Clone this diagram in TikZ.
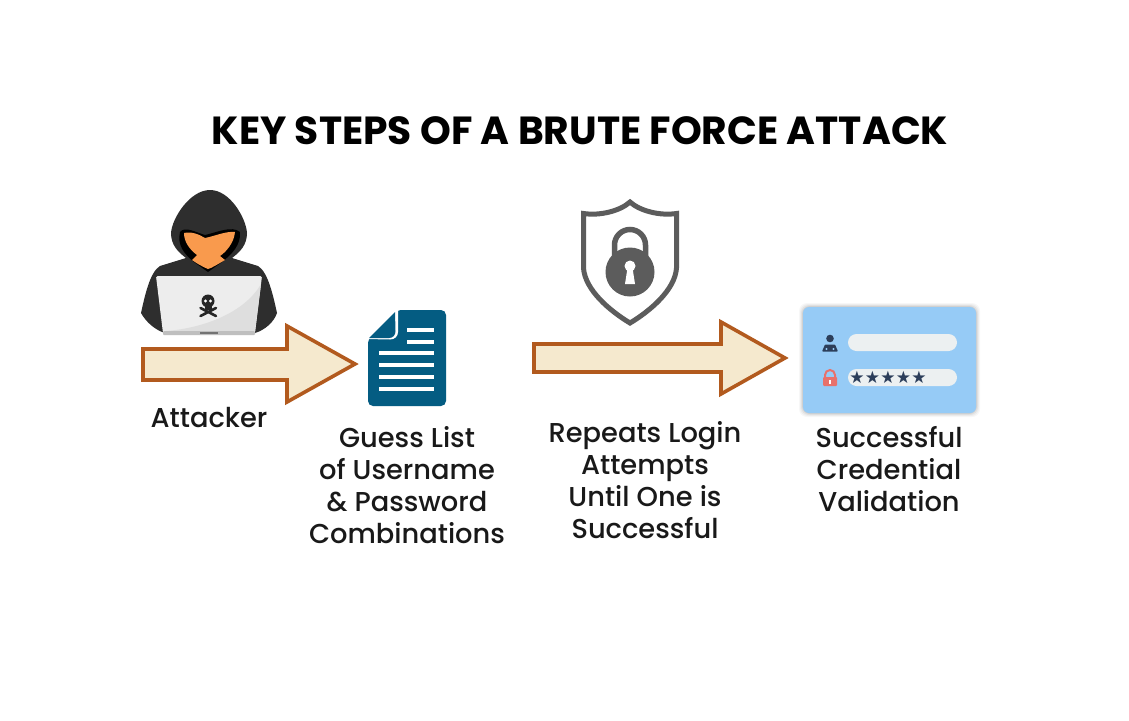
\documentclass[tikz,border=0pt]{standalone}
\usepackage{fontspec}
\setmainfont{Poppins Medium}[BoldFont=Poppins]
\newfontfamily\titlefont{Poppins}[FakeBold=0]
\setmainfont{Poppins Medium}[BoldFont=Poppins SemiBold]
\newfontfamily\symfont{DejaVu Sans}
\definecolor{arrowfill}{HTML}{F5E9CE}
\definecolor{arrowline}{HTML}{B25A1E}
\definecolor{docblue}{HTML}{045C82}
\definecolor{shieldgrey}{HTML}{5C5C5C}
\definecolor{cardblue}{HTML}{96CBF6}
\definecolor{fieldgrey}{HTML}{ECF0F1}
\definecolor{navyicon}{HTML}{2C3E5A}
\definecolor{lockred}{HTML}{E8716B}
\definecolor{hoodblack}{HTML}{2E2E2E}
\definecolor{faceorange}{HTML}{F99A4D}
\definecolor{laptopgrey}{HTML}{EDEDED}
\tikzset{
  x=1pt,y=-1pt,
  blockarrow/.style={draw=arrowline,fill=arrowfill,line width=3.6pt,miter limit=10},
  lbl/.style={align=center,font=\fontsize{27.3}{32}\selectfont,text=black!90,inner sep=0pt},
  docline/.style={draw=white,line width=3.6pt},
  field/.style={fill=fieldgrey,rounded corners=8.5pt},
}
\begin{document}
\begin{tikzpicture}
\useasboundingbox (0,0) rectangle (1129,720);
\fill[white] (0,0) rectangle (1129,720);
% title
\node[inner sep=0pt,font=\titlefont\bfseries\fontsize{39.2}{44}\selectfont,text=black] (title) at (580,131) {KEY STEPS OF A BRUTE FORCE ATTACK};
% arrows
\draw[blockarrow] (143,349) -- (287,349) -- (287,326) -- (355,364) -- (287,402) -- (287,380) -- (143,380) -- cycle;
\draw[blockarrow] (534,344) -- (721,344) -- (721,322) -- (785,358) -- (721,394) -- (721,372) -- (534,372) -- cycle;
% hacker
\fill[hoodblack] (210,190) .. controls (190,190) and (172,218) .. (171,233) .. controls (171,245) and (178,252) .. (186,258) -- (160,266) .. controls (150,272) and (145,295) .. (141,313) .. controls (146,322) and (155,330) .. (165,333) -- (255,333) .. controls (265,330) and (274,322) .. (277,313) .. controls (273,295) and (268,272) .. (258,266) -- (232,258) .. controls (240,252) and (247,245) .. (247,233) .. controls (246,218) and (230,190) .. (210,190) -- cycle;
\fill[black] (180,232) .. controls (185,226) and (195,232) .. (205,235) .. controls (215,233) and (232,225) .. (240,232) .. controls (241,245) and (232,254) .. (222,262) -- (208,272) -- (194,262) .. controls (184,254) and (177,245) .. (180,232) -- cycle;
\fill[faceorange] (184,233) .. controls (192,231) and (200,235) .. (205,238) .. controls (215,236) and (226,231) .. (235,232) .. controls (234,243) and (226,252) .. (220,256) -- (225,260) .. controls (218,264) and (212,268) .. (208,269) .. controls (203,267) and (196,263) .. (192,260) -- (197,255) .. controls (190,250) and (184,242) .. (184,233) -- cycle;
\fill[laptopgrey,rounded corners=1.5pt] (156,276) -- (262,276) -- (255,333) -- (163,333) -- cycle;
\fill[black!13] (261,284) .. controls (245,312) and (205,328) .. (166,331) -- (255,331) -- cycle;
\fill[black!25,rounded corners=1pt] (163,331) rectangle (255,335);
\fill[black!55] (200,332) rectangle (218,334);
% skull
\draw[black!85,line width=2.6pt,line cap=round] (200.5,308) -- (216,316) (216,308) -- (200.5,316);
\fill[black!85] (208,301) circle (6.5);
\fill[black!85] (204.5,304) rectangle (211.5,310);
\fill[white] (205.5,301) circle (1.7) (210.5,301) circle (1.7);
% doc
\fill[docblue,rounded corners=5pt] (397,310) -- (446,310) -- (446,406) -- (368,406) -- (368,339) -- cycle;
\fill[white] (395,310) -- (366,339) -- (390,339.5) .. controls (395,339.5) and (398,336) .. (398,332) -- (398,310) -- cycle;
\fill[docblue] (395,312) -- (369,338) -- (389,338) .. controls (393,338) and (395.5,335) .. (395.5,331) -- cycle;
\draw[docline] (407,330) -- (434,330) (407,342) -- (434,342);
\draw[docline] (379,353) -- (434,353) (379,365) -- (434,365) (379,377) -- (434,377) (379,389) -- (434,389);
% shield
\draw[draw=shieldgrey,line width=5pt,miter limit=6] (630,202) .. controls (620,211) and (600,216) .. (583.5,213.5) -- (583.5,268) .. controls (585,290) and (610,311) .. (630,323) .. controls (650,311) and (675,290) .. (676.5,268) -- (676.5,213.5) .. controls (660,216) and (640,211) .. (630,202) -- cycle;
\draw[shieldgrey,line width=5.5pt] (614.5,262) -- (614.5,245) arc[start angle=180,end angle=360,radius=15.5] -- (645.5,262);
\fill[shieldgrey] (630,272) circle (24.5);
\fill[white] (630,266) circle (5.5);
\fill[white] (627.5,268) -- (632.5,268) -- (635,284) -- (625,284) -- cycle;
% card
\foreach \g/\o in {4/0.03,3/0.04,2/0.05,1/0.07}{
  \fill[black,opacity=\o,rounded corners=8pt] (803-\g,307-\g) rectangle (976+\g,413+\g);
}
\fill[cardblue,rounded corners=6pt] (803,307) rectangle (976,413);
\fill[field] (848,334) rectangle (957,351);
\fill[field] (848,369) rectangle (957,386);
% user icon
\fill[navyicon] (830,338.5) circle (3.8);
\fill[navyicon,rounded corners=0.8pt] (822,351.5) -- (825,344.5) -- (835,344.5) -- (838,351.5) -- cycle;
\fill[cardblue] (826.5,349) circle (1.2) (833.5,349) circle (1.2);
% small lock
\draw[lockred,line width=2pt] (825,379) -- (825,375) arc[start angle=180,end angle=360,radius=5] -- (835,379);
\fill[lockred,rounded corners=1pt] (823,377) rectangle (837,386);
\fill[white] (829,380) rectangle (831,384);
% stars
\node[inner sep=0pt,text=navyicon,font=\symfont\fontsize{17}{15}\selectfont] (stars) at (888,377.5) {★\kern0.3pt★\kern0.3pt★\kern0.3pt★\kern0.3pt★};
% labels
\node[lbl] (attacker) at (209,418) {Attacker};
\node[lbl] (guess) at (407,485) {Guess List\\of Username\\\& Password\\Combinations};
\node[lbl] (repeats) at (645,480) {Repeats Login\\Attempts\\Until One is\\Successful};
\node[lbl] (success) at (889,469) {Successful\\Credential\\Validation};
\end{tikzpicture}
\end{document}
